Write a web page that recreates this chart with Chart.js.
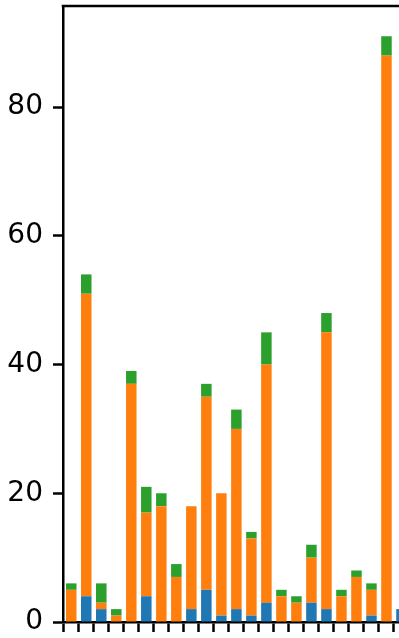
<!DOCTYPE html>
<html>
<head>
<meta charset="utf-8">
<script src="https://cdn.jsdelivr.net/npm/chart.js@4"></script>
<style>
  body { margin: 0; background: #fff; }
  #wrap { width: 399px; height: 638px; overflow: hidden; }
</style>
</head>
<body>
<div id="wrap"><canvas id="myChart" width="430" height="638"></canvas></div>
<script>
'use strict';
// bar positions (unlabelled categories)
const categories = [0, 1, 2, 3, 4, 5, 6, 7, 8, 9, 10, 11, 12, 13, 14, 15, 16, 17, 18, 19, 20, 21, 22];
const blueValues = [0, 4, 2, 0, 0, 4, 0, 0, 2, 5, 1, 2, 1, 3, 0, 0, 3, 2, 0, 0, 1, 0, 2];
const orangeValues = [5, 47, 1, 1, 37, 13, 18, 7, 16, 30, 19, 28, 12, 37, 4, 3, 7, 43, 4, 7, 4, 88, 0];
const greenValues = [1, 3, 3, 1, 2, 4, 2, 2, 0, 2, 0, 3, 1, 5, 1, 1, 2, 3, 1, 1, 1, 3, 0];
const yTicks = [0, 20, 40, 60, 80];

const topSpine = {
  id: 'topSpine',
  afterDraw(chart) {
    const { ctx, chartArea } = chart;
    ctx.save();
    ctx.strokeStyle = '#000';
    ctx.lineWidth = 2.5;
    ctx.beginPath();
    ctx.moveTo(chartArea.left - 1.25, chartArea.top);
    ctx.lineTo(chartArea.right, chartArea.top);
    ctx.stroke();
    ctx.restore();
  }
};

const data = {
  labels: categories,
  datasets: [
    { label: 'blue', data: blueValues, backgroundColor: '#1f77b4' },
    { label: 'orange', data: orangeValues, backgroundColor: '#ff7f0e' },
    { label: 'green', data: greenValues, backgroundColor: '#2ca02c' }
  ]
};

const config = {
  type: 'bar',
  data: data,
  options: {
    responsive: false,
    animation: false,
    layout: { padding: { top: 6, left: 0, right: 0, bottom: 0 } },
    datasets: { bar: { categoryPercentage: 1, barPercentage: 0.7, borderWidth: 0 } },
    plugins: { legend: { display: false }, tooltip: { enabled: false } },
    scales: {
      x: {
        type: 'linear',
        stacked: true,
        min: -0.55,
        max: 23.9,
        offset: false,
        grid: { display: true, drawOnChartArea: false, drawTicks: true, tickLength: 10, tickWidth: 2.5, tickColor: '#000' },
        border: { display: true, color: '#000', width: 2.5 },
        ticks: { display: false, stepSize: 1 },
        afterBuildTicks: (scale) => {
          scale.ticks = categories.map((c) => ({ value: c }));
        },
        afterFit: (scale) => {
          scale.height = 16;
          scale.paddingLeft = 0;
          scale.paddingRight = 0;
        }
      },
      y: {
        stacked: true,
        min: 0,
        max: 95.7,
        grid: { display: true, drawOnChartArea: false, drawTicks: true, tickLength: 10, tickWidth: 2.5, tickColor: '#000' },
        border: { display: true, color: '#000', width: 2.5 },
        ticks: {
          color: '#000',
          padding: 10,
          font: { family: 'DejaVu Sans', size: 28 },
          stepSize: 20
        },
        afterBuildTicks: (scale) => {
          scale.ticks = yTicks.map((v) => ({ value: v }));
        },
        afterFit: (scale) => {
          scale.width = 63;
          scale.paddingTop = 0;
          scale.paddingBottom = 0;
        }
      }
    }
  },
  plugins: [topSpine]
};

const myChart = new Chart(document.getElementById('myChart'), config);
</script>
</body>
</html>
